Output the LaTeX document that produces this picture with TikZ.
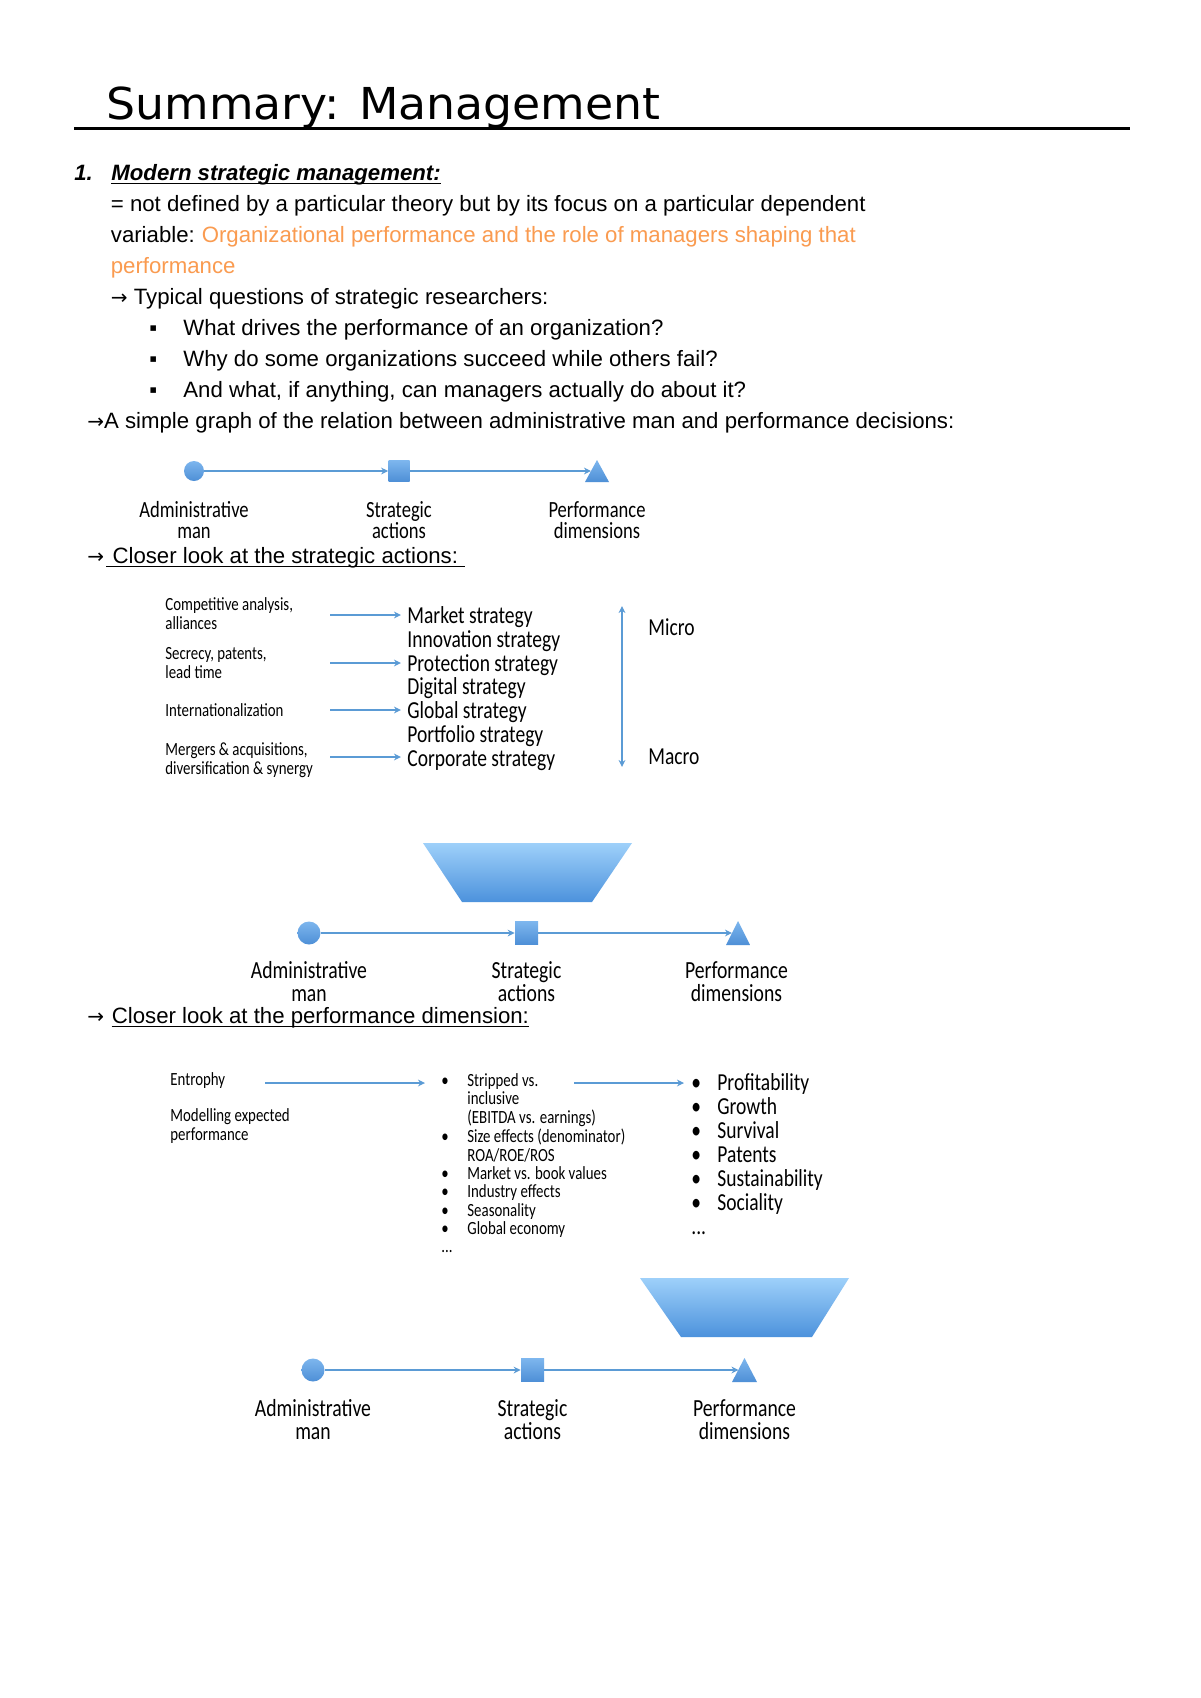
\documentclass[tikz,border=0pt]{standalone}
\usepackage{fontspec}
\setmainfont{Liberation Sans}
\newfontfamily\ttlfont[FakeStretch=1.04]{DejaVu Sans}
\newfontfamily\diagfont[FakeStretch=0.8]{Carlito}
\newfontfamily\arrowfont{DejaVu Sans}
\newcommand{\rarr}{{\arrowfont\fontsize{10}{12}\selectfont →}}
\usetikzlibrary{arrows.meta}

\definecolor{flowblue}{RGB}{91,155,213}
\definecolor{shapetop}{RGB}{125,182,238}
\definecolor{shapebot}{RGB}{78,143,214}
\definecolor{trapetop}{RGB}{158,208,250}
\definecolor{trapebot}{RGB}{76,146,220}
\definecolor{hiorange}{RGB}{250,155,80}

\tikzset{
  >={Stealth[length=3.5pt, width=3.4pt]},
  body/.style={anchor=base west, inner sep=0pt, font=\fontsize{11.1}{13}\selectfont},
  head/.style={body, font=\fontsize{11.1}{13}\selectfont\bfseries\itshape},
  hitext/.style={body, text=hiorange},
  uline/.style={line width=0.6pt},
  arr/.style={draw=flowblue, line width=0.75pt, ->},
  mandot/.style={circle, inner sep=0pt, minimum size=#1, top color=shapetop, bottom color=shapebot},
  actbox/.style={rectangle, inner sep=0pt, minimum size=#1, top color=shapetop, bottom color=shapebot},
  shapefill/.style={top color=shapetop, bottom color=shapebot},
  trapefill/.style={top color=trapetop, bottom color=trapebot},
  lblsmall/.style={align=center, inner sep=0pt, font=\diagfont\fontsize{11.6}{10.5}\selectfont},
  lbl/.style={align=center, inner sep=0pt, font=\diagfont\fontsize{12.3}{11.5}\selectfont},
  note/.style={anchor=west, inner sep=0pt, align=left, font=\diagfont\fontsize{9.3}{9.5}\selectfont},
  item/.style={anchor=base west, inner sep=0pt, font=\diagfont\fontsize{12.2}{11.95}\selectfont},
  smalllist/.style={anchor=base west, inner sep=0pt, font=\diagfont\fontsize{9.3}{9.05}\selectfont},
}

\begin{document}
\begin{tikzpicture}[x=0.5pt, y=-0.5pt]
  \useasboundingbox (0,0) rectangle (1200,1698);
  \fill[white] (0,0) rectangle (1200,1698);

  % heading
  \node[anchor=base west, inner sep=0pt, font=\ttlfont\fontsize{22}{26}\selectfont] (title) at (106,119) {Summary: Management};
  \draw[line width=1.5pt] (74,128) -- (1130,128);

  % section 1 text
  \node[head] (num) at (74,180) {1.};
  \node[head] (sec) at (111,180) {Modern strategic management:};
  \draw[uline] ([yshift=-1.8pt]sec.base west) -- ([yshift=-1.8pt]sec.base east);
  \node[body] (def1) at (110.5,211) {= not defined by a particular theory but by its focus on a particular dependent};
  \node[body] (def2) at (110.5,242) {variable:\ \mbox{}};
  \node[hitext] (dv1) at (def2.base east) {Organizational performance and the role of managers shaping that};
  \node[hitext] (dv2) at (110.5,273) {performance};
  \node[body] (tq) at (110.5,304) {\rarr\ Typical questions of strategic researchers:};
  \node[body] (bq1) at (149,335) {▪};
  \node[body] (q1) at (183,335) {What drives the performance of an organization?};
  \node[body] (bq2) at (149,366) {▪};
  \node[body] (q2) at (183,366) {Why do some organizations succeed while others fail?};
  \node[body] (bq3) at (149,397) {▪};
  \node[body] (q3) at (183,397) {And what, if anything, can managers actually do about it?};
  \node[body] (sg) at (87,428) {\rarr A simple graph of the relation between administrative man and performance decisions:};

  % simple graph
  \node[mandot=10pt] (am1) at (194,471) {};
  \node[actbox=10.5pt] (sa1) at (399,471) {};
  \shade[shapefill] (597,460) -- (609,482) -- (585,482) -- cycle;
  \coordinate (pd1) at (591,471);
  \draw[arr] (am1) -- (sa1);
  \draw[arr] (sa1) -- (pd1);
  \node[lblsmall] (am1l) at (194,520) {Administrative\\man};
  \node[lblsmall] (sa1l) at (399,520) {Strategic\\actions};
  \node[lblsmall] (pd1l) at (597,520) {Performance\\dimensions};

  \node[body] (cl1a) at (87,563) {\rarr};
  \node[body] (cl1) at (106,563) {\ Closer look at the strategic actions:\ \mbox{}};
  \draw[uline] ([yshift=-1.8pt]cl1.base west) -- ([yshift=-1.8pt]cl1.base east);

  % strategic actions
  \node[note] (ca) at (165,613.5) {Competitive analysis,\\alliances};
  \node[note] (sp) at (165,663.5) {Secrecy, patents,\\lead time};
  \node[note] (intl) at (165,710) {Internationalization};
  \node[note] (ma) at (165,760) {Mergers \& acquisitions,\\diversification \& synergy};
  \node[item] (mkt) at (407,623.5) {Market strategy};
  \node[item] (inn) at (407,647.3) {Innovation strategy};
  \node[item] (prot) at (407,671.1) {Protection strategy};
  \node[item] (dig) at (407,694.9) {Digital strategy};
  \node[item] (glob) at (407,718.7) {Global strategy};
  \node[item] (port) at (407,742.5) {Portfolio strategy};
  \node[item] (corp) at (407,766.3) {Corporate strategy};
  \coordinate (ca0) at (330,615);
  \coordinate (sp0) at (330,663);
  \coordinate (intl0) at (330,710);
  \coordinate (ma0) at (330,757);
  \draw[arr, shorten >=3pt] (ca0) -- (ca0 -| mkt.west);
  \draw[arr, shorten >=3pt] (sp0) -- (sp0 -| prot.west);
  \draw[arr, shorten >=3pt] (intl0) -- (intl0 -| glob.west);
  \draw[arr, shorten >=3pt] (ma0) -- (ma0 -| corp.west);
  \node[item] (micro) at (648,635.5) {Micro};
  \node[item] (macro) at (648,764.5) {Macro};
  \coordinate (scaleup) at (622,606);
  \coordinate (scaledown) at (622,767);
  \draw[arr, <->] (scaleup) -- (scaledown);

  % graph with focus on strategic actions
  \shade[trapefill] (423,843) -- (632,843) -- (592,902) -- (462,902) -- cycle;
  \node[mandot=11.5pt] (am3) at (309,933) {};
  \node[actbox=11.5pt] (sa3) at (526.5,933) {};
  \shade[shapefill] (738,921) -- (750,945) -- (726,945) -- cycle;
  \coordinate (pd3) at (732,933);
  \draw[arr] (am3) -- (sa3);
  \draw[arr] (sa3) -- (pd3);
  \node[lbl] (am3l) at (309,982) {Administrative\\man};
  \node[lbl] (sa3l) at (526.5,982) {Strategic\\actions};
  \node[lbl] (pd3l) at (736.5,982) {Performance\\dimensions};

  \node[body] (cl2a) at (87,1023) {\rarr};
  \node[body] (cl2) at (111.5,1023) {Closer look at the performance dimension:};
  \draw[uline] ([yshift=-1.8pt]cl2.base west) -- ([yshift=-1.8pt]cl2.base east);

  % performance dimension
  \node[note] (ent) at (170,1081) {Entrophy};
  \node[note] (mep) at (170,1126) {Modelling expected\\performance};
  \coordinate (ent0) at (265,1083);
  \coordinate (ent1) at (425,1083);
  \draw[arr] (ent0) -- (ent1);
  \node[smalllist] (msr) at (441,1086.5) {\begin{tabular}[t]{@{}p{13pt}@{}l@{}}
    • & Stripped vs.\\
      & inclusive\\
      & (EBITDA vs. earnings)\\
    • & Size effects (denominator)\\
      & ROA/ROE/ROS\\
    • & Market vs. book values\\
    • & Industry effects\\
    • & Seasonality\\
    • & Global economy\\
    ... &
  \end{tabular}};
  \coordinate (msr0) at (574,1083);
  \coordinate (msr1) at (684,1083);
  \draw[arr] (msr0) -- (msr1);
  \node[item] (dims) at (691,1090.5) {\begin{tabular}[t]{@{}p{13pt}@{}l@{}}
    • & Profitability\\
    • & Growth\\
    • & Survival\\
    • & Patents\\
    • & Sustainability\\
    • & Sociality\\
    ... &
  \end{tabular}};

  % graph with focus on performance dimensions
  \shade[trapefill] (640,1278) -- (849,1278) -- (812,1337) -- (681,1337) -- cycle;
  \node[mandot=11.5pt] (am5) at (313,1370) {};
  \node[actbox=11.5pt] (sa5) at (532.5,1370) {};
  \shade[shapefill] (744.5,1358) -- (757,1382) -- (732,1382) -- cycle;
  \coordinate (pd5) at (738.5,1370);
  \draw[arr] (am5) -- (sa5);
  \draw[arr] (sa5) -- (pd5);
  \node[lbl] (am5l) at (313,1420) {Administrative\\man};
  \node[lbl] (sa5l) at (532.5,1420) {Strategic\\actions};
  \node[lbl] (pd5l) at (744.5,1420) {Performance\\dimensions};
\end{tikzpicture}
\end{document}
